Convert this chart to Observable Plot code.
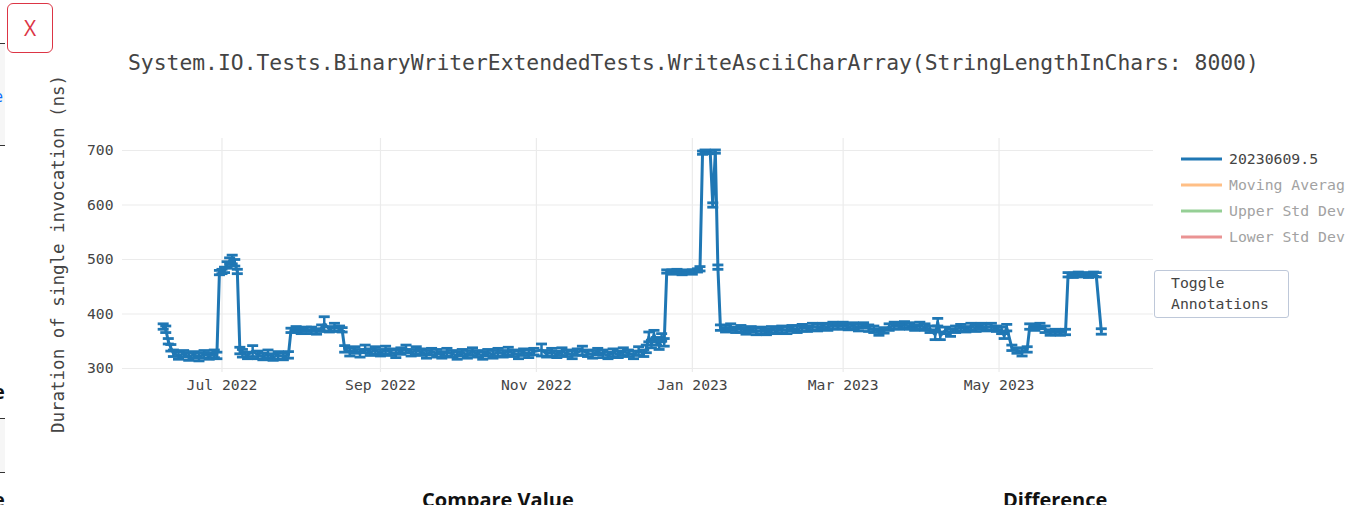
<!DOCTYPE html>
<html><head><meta charset="utf-8">
<script src="https://cdn.jsdelivr.net/npm/d3@7"></script>
<script src="https://cdn.jsdelivr.net/npm/@observablehq/plot@0.6"></script>
<style>
html,body{margin:0;padding:0;}
body{width:1345px;height:505px;overflow:hidden;background:#fff;position:relative;font-family:"DejaVu Sans Mono",monospace;color:#444;}
.abs{position:absolute;white-space:nowrap;}
#chart{position:absolute;left:0;top:0;}
#title{left:128px;top:50px;font-size:21.35px;color:#444;}
#ytitle{left:58px;top:254px;font-size:17.5px;color:#444;transform:translate(-50%,-50%) rotate(-90deg);}
.leg{font-size:14.8px;line-height:18px;}
#toggle{left:1154px;top:270px;width:133px;height:46px;border:1px solid #bec8d9;border-radius:3px;background:#fff;}
#toggle div{position:absolute;left:16px;font-size:14.8px;color:#444;}
#xbtn{left:7px;top:3px;width:44px;height:48px;border:1px solid #dc3545;border-radius:6px;color:#dc3545;font-family:"Open Sans",sans-serif;font-size:21px;text-align:center;line-height:48px;}
.bold{font-family:"Open Sans",sans-serif;font-weight:700;font-size:20px;color:#111;}
</style></head><body>
<div id="chart"></div>
<div id="title" class="abs">System.IO.Tests.BinaryWriterExtendedTests.WriteAsciiCharArray(StringLengthInChars: 8000)</div>
<div id="ytitle" class="abs">Duration of single invocation (ns)</div>
<div id="legend"></div>
<div id="toggle" class="abs"><div style="top:3px">Toggle</div><div style="top:24px">Annotations</div></div>
<div id="xbtn" class="abs">X</div>
<div class="abs" style="left:0;top:43px;width:5px;height:101px;background:#f6f6f6;border-top:1px solid #333;border-bottom:1px solid #333;"></div>
<div class="abs" style="left:-6px;top:85px;font-family:'Open Sans',sans-serif;font-size:16px;color:#0d6efd;">e</div>
<div class="abs bold" style="left:-7px;top:378px;">e</div>
<div class="abs" style="left:0;top:418px;width:5px;height:53px;background:#f6f6f6;border-top:1px solid #333;border-bottom:1px solid #333;"></div>
<div class="abs bold" style="left:-7px;top:486px;">e</div>
<div class="abs bold" style="left:422px;top:486px;">Compare Value</div>
<div class="abs bold" style="left:1003px;top:486px;">Difference</div>
<script>
const dates = ["2022-06-08","2022-06-09","2022-06-10","2022-06-11","2022-06-12","2022-06-14","2022-06-16","2022-06-18","2022-06-20","2022-06-22","2022-06-24","2022-06-26","2022-06-28","2022-06-29","2022-06-30",
"2022-07-01","2022-07-02","2022-07-03","2022-07-04","2022-07-05","2022-07-06","2022-07-07","2022-07-08","2022-07-09","2022-07-11","2022-07-13","2022-07-15","2022-07-17","2022-07-19","2022-07-21","2022-07-23","2022-07-25","2022-07-27","2022-07-28","2022-07-30",
"2022-08-01","2022-08-03","2022-08-05","2022-08-07","2022-08-09","2022-08-10","2022-08-12","2022-08-14","2022-08-16","2022-08-17","2022-08-18","2022-08-20","2022-08-22","2022-08-24","2022-08-26","2022-08-28","2022-08-30",
"2022-09-01","2022-09-03","2022-09-05","2022-09-07","2022-09-09","2022-09-11","2022-09-13","2022-09-15","2022-09-17","2022-09-19","2022-09-21","2022-09-23","2022-09-25","2022-09-27","2022-09-29",
"2022-10-01","2022-10-03","2022-10-05","2022-10-07","2022-10-09","2022-10-11","2022-10-13","2022-10-15","2022-10-17","2022-10-19","2022-10-21","2022-10-23","2022-10-25","2022-10-27","2022-10-29","2022-10-31",
"2022-11-03","2022-11-05","2022-11-07","2022-11-09","2022-11-11","2022-11-13","2022-11-15","2022-11-17","2022-11-19","2022-11-21","2022-11-23","2022-11-25","2022-11-27","2022-11-29",
"2022-12-01","2022-12-03","2022-12-05","2022-12-07","2022-12-09","2022-12-11","2022-12-13","2022-12-14","2022-12-15","2022-12-16","2022-12-17","2022-12-18","2022-12-19","2022-12-20","2022-12-21","2022-12-22","2022-12-24","2022-12-26","2022-12-28","2022-12-30",
"2023-01-01","2023-01-03","2023-01-04","2023-01-05","2023-01-06","2023-01-08","2023-01-09","2023-01-10","2023-01-11","2023-01-12","2023-01-14","2023-01-16","2023-01-18","2023-01-20","2023-01-22","2023-01-24","2023-01-26","2023-01-28","2023-01-30",
"2023-02-01","2023-02-03","2023-02-05","2023-02-07","2023-02-09","2023-02-11","2023-02-13","2023-02-15","2023-02-17","2023-02-19","2023-02-21","2023-02-23","2023-02-25","2023-02-27",
"2023-03-01","2023-03-03","2023-03-05","2023-03-07","2023-03-09","2023-03-11","2023-03-13","2023-03-15","2023-03-17","2023-03-19","2023-03-21","2023-03-23","2023-03-25","2023-03-27","2023-03-29","2023-03-31",
"2023-04-02","2023-04-04","2023-04-06","2023-04-07","2023-04-08","2023-04-10","2023-04-12","2023-04-14","2023-04-16","2023-04-18","2023-04-20","2023-04-22","2023-04-24","2023-04-26","2023-04-28","2023-04-30",
"2023-05-02","2023-05-03","2023-05-04","2023-05-06","2023-05-08","2023-05-10","2023-05-12","2023-05-13","2023-05-15","2023-05-17","2023-05-19","2023-05-21","2023-05-23","2023-05-25","2023-05-27","2023-05-28","2023-05-30",
"2023-06-01","2023-06-03","2023-06-05","2023-06-07","2023-06-08","2023-06-10"];
const values = [377,372,350,338,328,324,327,322,325,321,326,323,327,324,476,
478,481,490,497,500,494,478,333,328,324,332,325,322,327,321,324,322,325,370,372,
369,372,370,368,374,382,372,376,373,371,336,330,334,328,336,330,333,
329,334,330,327,332,336,329,333,330,326,331,328,325,330,327,
324,329,326,331,327,324,329,326,330,327,332,328,325,330,327,331,
334,327,330,326,331,328,325,330,333,328,326,331,327,324,
329,326,331,328,325,332,328,336,358,345,362,350,342,357,348,478,477,479,476,478,
477,480,483,696,698,697,600,698,486,375,373,376,371,373,369,372,368,370,367,
371,369,372,370,374,372,375,373,377,375,378,376,379,377,
379,376,378,375,379,374,372,367,370,376,379,377,380,378,375,379,
376,372,362,385,360,370,366,372,375,372,377,374,378,375,377,373,
370,360,375,338,333,330,335,377,375,378,372,366,367,366,367,472,471,
473,472,471,473,472,368];
const errors = [5,6,5,6,6,7,6,7,6,7,7,6,7,6,4,
4,5,6,6,8,6,4,6,7,6,10,7,6,7,6,7,6,6,4,5,
5,4,6,5,6,13,5,7,5,4,6,7,6,7,7,6,7,
6,7,6,7,6,7,6,7,6,7,6,7,6,7,6,
7,6,7,7,6,7,6,7,7,6,7,6,7,6,7,6,
11,6,7,6,7,6,7,6,8,6,7,6,7,6,
7,6,7,6,7,8,6,7,9,7,8,7,7,7,7,3,4,3,4,3,
4,3,4,3,3,3,4,3,4,5,6,6,5,6,6,5,6,6,5,
6,5,6,6,5,6,6,5,6,6,5,6,6,5,
6,5,6,6,5,6,6,6,5,6,6,5,6,6,5,6,
6,6,9,7,7,6,7,6,6,5,6,6,5,6,6,5,
6,5,6,5,5,7,5,5,5,5,6,5,5,5,5,4,4,
4,4,4,4,4,5];
const yTicks = [300,400,500,600,700];
const xTickDates = ["2022-07-01","2022-09-01","2022-11-01","2023-01-01","2023-03-01","2023-05-01"];
const legendNames = ["20230609.5","Moving Average","Upper Std Dev","Lower Std Dev"];
const legendColors = ["#1f77b4","#ffbf86","#95cf95","#ea9393"];
const legendText = ["#444","#a2a2a2","#a2a2a2","#a2a2a2"];

const blue = "#1f77b4";
const data = dates.map((d,i)=>({date:new Date(d+"T00:00:00Z"), v:values[i], e:errors[i]}));
const xTicks = xTickDates.map(d=>new Date(d+"T00:00:00Z"));
const cap = {draw(ctx,size){const w=Math.sqrt(size/Math.PI);ctx.moveTo(-w,0);ctx.lineTo(w,0);}};

const chart = Plot.plot({
  width:1345, height:505,
  marginLeft:122, marginRight:192, marginTop:138, marginBottom:133,
  x:{type:"utc", domain:[new Date("2022-05-23T02:00:00Z"), new Date("2023-06-30T10:00:00Z")]},
  y:{domain:[292.7,722]},
  style:{fontFamily:"DejaVu Sans Mono", fontSize:"14.7px", color:"#444", background:"transparent", overflow:"visible"},
  marks:[
    Plot.gridY(yTicks,{stroke:"#ebebeb", strokeOpacity:1, strokeWidth:1.2}),
    Plot.gridX(xTicks,{stroke:"#ebebeb", strokeOpacity:1, strokeWidth:1.2}),
    Plot.ruleX(data,{x:"date", y1:d=>d.v-d.e, y2:d=>d.v+d.e, stroke:blue, strokeWidth:2.5}),
    Plot.line(data,{x:"date", y:"v", stroke:blue, strokeWidth:3}),
    Plot.dot(data,{x:"date", y:d=>d.v+d.e, symbol:cap, r:5.5, stroke:blue, fill:"none", strokeWidth:2.8}),
    Plot.dot(data,{x:"date", y:d=>d.v-d.e, symbol:cap, r:5.5, stroke:blue, fill:"none", strokeWidth:2.8}),
    Plot.axisY(yTicks,{tickSize:0, tickPadding:9, label:null}),
    Plot.axisX(xTicks,{tickSize:0, tickPadding:7, tickFormat:d3.utcFormat("%b %Y"), label:null})
  ]
});
document.getElementById("chart").appendChild(chart);

const leg = document.getElementById("legend");
legendNames.forEach((name,i)=>{
  const y = 159 + i*26;
  const row = document.createElement("div");
  row.className = "abs leg";
  row.style.left = "1181px";
  row.style.top = (y-9)+"px";
  row.innerHTML = `<svg width="42" height="18" style="vertical-align:top"><line x1="0" x2="41" y1="9" y2="9" stroke="${legendColors[i]}" stroke-width="3"/></svg><span style="position:absolute;left:48px;top:0;color:${legendText[i]}">${name}</span>`;
  leg.appendChild(row);
});
</script>
</body></html>
